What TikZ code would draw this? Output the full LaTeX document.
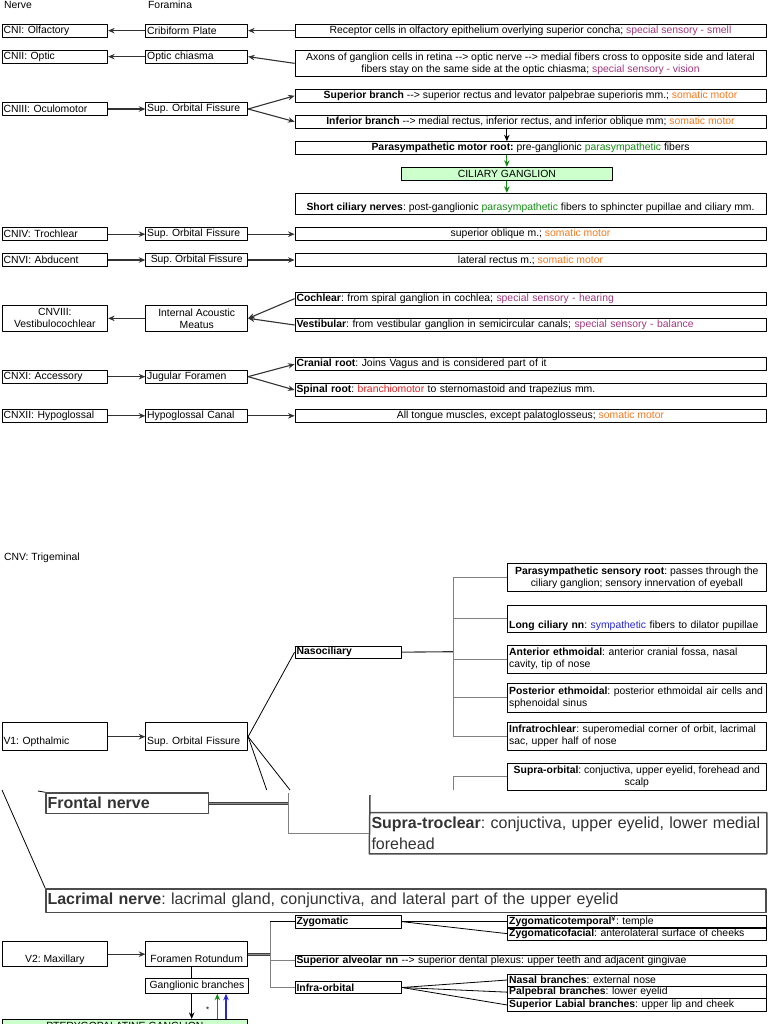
\documentclass[tikz,border=0pt]{standalone}
\usepackage{fontspec}
\setmainfont{Liberation Sans}
\usetikzlibrary{arrows.meta}
\frenchspacing
\definecolor{sens}{RGB}{160,55,125}
\definecolor{mot}{RGB}{245,120,30}
\definecolor{psym}{RGB}{20,140,20}
\definecolor{symp}{RGB}{40,40,210}
\definecolor{bmot}{RGB}{225,30,30}
\definecolor{ggreen}{RGB}{204,255,204}
\definecolor{ink}{RGB}{50,50,50}
\newcommand{\dto}{-{}->}
% centred box from corner (#3,#4) to corner (#5,#6)
\newcommand{\bx}[7][]{%
  \pgfmathsetmacro{\boxw}{#5-#3}\pgfmathsetmacro{\boxh}{#6-#4}%
  \node[box, minimum width=\boxw pt, minimum height=\boxh pt, #1] (#2) at ({(#3+#5)/2},{(#4+#6)/2}) {#7};}
% left aligned box
\newcommand{\bl}[7][]{%
  \pgfmathsetmacro{\boxw}{#5-#3}\pgfmathsetmacro{\boxh}{#6-#4}\pgfmathsetmacro{\boxt}{#5-#3-3}%
  \node[box, inner xsep=1.5pt, align=left, text width=\boxt pt, minimum width=\boxw pt, minimum height=\boxh pt, #1] (#2) at ({(#3+#5)/2},{(#4+#6)/2}) {#7};}
\begin{document}
\begin{tikzpicture}[x=1pt, y=-1pt, font=\fontsize{10.4}{12}\selectfont, line join=round, >={Stealth[length=6.5pt,width=5.5pt]},
	box/.style={draw=black, line width=0.85pt, inner sep=1pt, align=center},
	arr/.style={->, draw=ink, line width=1.1pt},
	tree/.style={draw=gray, line width=1pt},
	big/.style={draw=black!70, line width=1.5pt, text=black!80, font=\fontsize{16}{21}\selectfont},
	dbl/.style={draw=black!75, double=black!45, double distance=1.2pt, line width=0.9pt}]
	\useasboundingbox (0,0) rectangle (768,1024);
	\node[anchor=west] (hnerve) at (0.6,5) {Nerve};
	\node[anchor=west] (hfor) at (144.6,5) {Foramina};
	% CNI, CNII
	\bl{olf}{2}{24}{107.7}{37.3}{CNI: Olfactory}
	\bl{crib}{145.7}{24}{247.7}{37.3}{Cribiform Plate}
	\bx{rec}{295}{24}{766}{37.3}{Receptor cells in olfactory epithelium overlying superior concha; \textcolor{sens}{special sensory - smell}}
	\bl{opt}{2}{50}{107.7}{63.3}{CNII: Optic}
	\bl{optch}{145.7}{50}{247.7}{63.3}{Optic chiasma}
	\bx{axons}{295}{50}{766}{76.7}{Axons of ganglion cells in retina \dto{} optic nerve \dto{} medial fibers cross to opposite side and lateral\\fibers stay on the same side at the optic chiasma; \textcolor{sens}{special sensory - vision}}
	% CNIII
	\bl{cn3}{2}{102.3}{107.7}{115.7}{CNIII: Oculomotor}
	\bl{sof1}{145.7}{102.3}{247.7}{115.7}{Sup. Orbital Fissure}
	\bx{supbr}{295}{89.3}{766}{102.3}{\textbf{Superior branch} \dto{} superior rectus and levator palpebrae superioris mm.; \textcolor{mot}{somatic motor}}
	\bx{infbr}{295}{115}{766}{128.3}{\textbf{Inferior branch} \dto{} medial rectus, inferior rectus, and inferior oblique mm; \textcolor{mot}{somatic motor}}
	\bx{para}{295}{141.7}{766}{154.3}{\textbf{Parasympathetic motor root:} pre-ganglionic \textcolor{psym}{parasympathetic} fibers}
	\bx[fill=ggreen]{cil}{401}{167.3}{612.7}{180.3}{CILIARY GANGLION}
	\bx[text height=16pt, text depth=3pt]{shortc}{295}{193.3}{766}{214.3}{\textbf{Short ciliary nerves}: post-ganglionic \textcolor{psym}{parasympathetic} fibers to sphincter pupillae and ciliary mm.}
	% CNIV, CNVI
	\bl{cn4}{2}{227.7}{107.7}{240.7}{CNIV: Trochlear}
	\bl{sof4}{145.7}{227.7}{247.7}{240.7}{Sup. Orbital Fissure}
	\bx{troch}{295}{227.7}{766}{240.7}{superior oblique m.; \textcolor{mot}{somatic motor}}
	\bl{cn6}{2}{253.3}{107.7}{266.7}{CNVI: Abducent}
	\bx{sof6}{145.7}{253.3}{247.7}{266.7}{Sup. Orbital Fissure}
	\bx{lat}{295}{253.3}{766}{266.7}{lateral rectus m.; \textcolor{mot}{somatic motor}}
	% CNVIII
	\bx{cn8}{2}{305}{107.7}{331.7}{CNVIII:\\Vestibulocochlear}
	\bx{iam}{145.7}{305}{247.7}{331.7}{Internal Acoustic\\Meatus}
	\bl{coch}{295}{292.3}{766}{305}{\textbf{Cochlear}: from spiral ganglion in cochlea; \textcolor{sens}{special sensory - hearing}}
	\bl{vest}{295}{318.3}{766}{331.7}{\textbf{Vestibular}: from vestibular ganglion in semicircular canals; \textcolor{sens}{special sensory - balance}}
	% CNXI, CNXII
	\bl{cn11}{2}{370}{107.7}{383.3}{CNXI: Accessory}
	\bl{jug}{145.7}{370}{247.7}{383.3}{Jugular Foramen}
	\bl{cran}{295}{357.7}{766}{370.7}{\textbf{Cranial root}: Joins Vagus and is considered part of it}
	\bl{spin}{295}{383.3}{766}{396.7}{\textbf{Spinal root}: \textcolor{bmot}{branchiomotor} to sternomastoid and trapezius mm.}
	\bl{cn12}{2}{409.3}{107.7}{422.3}{CNXII: Hypoglossal}
	\bl{hyc}{145.7}{409.3}{247.7}{422.3}{Hypoglossal Canal}
	\bx{tong}{295}{409.3}{766}{422.3}{All tongue muscles, except palatoglosseus; \textcolor{mot}{somatic motor}}
	\draw[arr] (crib) -- (olf);
	\draw[arr] (rec) -- (crib);
	\draw[arr] (optch) -- (opt);
	\draw[arr] (axons.west) -- (optch.east);
	\draw[arr] (cn3) -- (sof1);
	\draw[arr] (sof1.east) -- (supbr.west);
	\draw[arr] (sof1.east) -- (infbr.west);
	\draw[arr, draw=black] (infbr.south -| cil.north) -- (para.north -| cil.north);
	\draw[arr, draw=psym] (para.south -| cil.north) -- (cil.north);
	\draw[arr, draw=psym] (cil.south) -- (shortc.north -| cil.south);
	\draw[arr] (cn4) -- (sof4);
	\draw[arr] (sof4) -- (troch);
	\draw[arr] (cn6) -- (sof6);
	\draw[arr] (sof6) -- (lat);
	\draw[arr] (iam) -- (cn8);
	\draw[arr] (coch.west) -- (iam.east);
	\draw[arr] (vest.west) -- (iam.east);
	\draw[arr] (cn11) -- (jug);
	\draw[arr] (jug.east) -- (cran.west);
	\draw[arr] (jug.east) -- (spin.west);
	\draw[arr] (cn12) -- (hyc);
	\draw[arr] (hyc) -- (tong);
	% CNV: V1
	\node[anchor=west] (htri) at (0.6,558) {CNV: Trigeminal};
	\bl[text height=21pt, text depth=5pt]{v1}{2}{722.7}{107.7}{750.7}{V1: Opthalmic}
	\bl[text height=21pt, text depth=5pt]{sof5}{145.7}{722.7}{247.7}{750.7}{Sup. Orbital Fissure}
	\bl{naso}{295}{646}{401.7}{658.3}{\textbf{Nasociliary}}
	\bx{psr}{507.7}{563}{766}{591.7}{\textbf{Parasympathetic sensory root}: passes through the\\ciliary ganglion; sensory innervation of eyeball}
	\bl[text height=22pt, text depth=3pt]{lcn}{507.7}{605}{766}{632}{\textbf{Long ciliary nn}: \textcolor{symp}{sympathetic} fibers to dilator pupillae}
	\bl{aeth}{507.7}{645}{766}{673}{\textbf{Anterior ethmoidal}: anterior cranial fossa, nasal\\cavity, tip of nose}
	\bl{peth}{507.7}{683}{766}{712}{\textbf{Posterior ethmoidal}: posterior ethmoidal air cells and\\sphenoidal sinus}
	\bl{infr}{507.7}{722}{766}{750}{\textbf{Infratrochlear}: superomedial corner of orbit, lacrimal\\sac, upper half of nose}
	\bx{so}{507.7}{763}{766}{790}{\textbf{Supra-orbital}: conjuctiva, upper eyelid, forehead and\\scalp}
	\draw[arr] (v1) -- (sof5);
	\coordinate (cf1) at (266.7,790);
	\coordinate (cf2) at (290,790);
	\coordinate (nt) at (453.3,651.7);
	\coordinate (sc) at (453.3,790);
	\draw[line width=0.8pt] (sof5.east) -- (naso.west);
	\draw[line width=0.8pt] (sof5.east) -- (cf1);
	\draw[line width=0.8pt] (sof5.east) -- (cf2);
	\draw[draw=ink, line width=1.1pt] (naso.east) -- (nt);
	\draw[tree] (nt |- psr.west) -- (nt |- infr.west);
	\foreach \b in {psr,lcn,aeth,peth,infr}
		\draw[tree] (nt |- \b.west) -- (\b.west);
	\draw[tree] (sc) -- (sc |- so.west) -- (so.west);
	% pasted frontal / lacrimal part
	\bl[big]{front}{46}{793}{208.3}{813.3}{\textbf{Frontal nerve}}
	\bl[big, draw=none]{st}{370}{813.3}{766}{853}{\textbf{Supra-troclear}: conjuctiva, upper eyelid, lower medial\\forehead}
	\bl[big]{lac}{46}{889}{766}{912.7}{\textbf{Lacrimal nerve}: lacrimal gland, conjunctiva, and lateral part of the upper eyelid}
	\coordinate (stt) at (370,795);
	\coordinate (ft) at (288.3,793.3);
	\coordinate (fc) at (38,791);
	\coordinate (cl) at (2,790);
	\draw[draw=black!70, line width=1.5pt] (stt) -- (st.south west) -- (st.south east) -- (st.north east) -- (st.north west);
	\draw[dbl] (front.east) -- (front.east -| ft);
	\draw[tree, line width=1.3pt] (ft) -- (ft |- st.west) -- (st.west);
	\draw[line width=0.8pt] (fc) -- (front.north west);
	\draw[line width=0.8pt] (cl) -- (lac.north west);
	% V2
	\bx[text height=20pt, text depth=3pt]{v2}{2}{941.7}{107.7}{966.7}{V2: Maxillary}
	\bx[text height=20pt, text depth=3pt]{foro}{145.7}{941.7}{247.7}{966.7}{Foramen Rotundum}
	\bx{gang}{145.7}{978.3}{248.3}{993.3}{Ganglionic branches}
	\bx[fill=ggreen]{ptg}{2}{1019.3}{247.7}{1032}{PTERYGOPALATINE GANGLION}
	\bl{zyg}{295}{915}{401.7}{928.3}{\textbf{Zygomatic}}
	\bl{sa}{295}{955}{766}{966.7}{\textbf{Superior alveolar nn} \dto{} superior dental plexus: upper teeth and adjacent gingivae}
	\bl{io}{295}{981.7}{401.7}{993.3}{\textbf{Infra-orbital}}
	\bl{zt}{507.7}{916}{766}{927.3}{\textbf{Zygomaticotemporal}\textsuperscript{¥}: temple}
	\bl{zf}{507.7}{927.3}{766}{940}{\textbf{Zygomaticofacial}: anterolateral surface of cheeks}
	\bl{nb}{507.7}{974}{766}{986}{\textbf{Nasal branches}: external nose}
	\bl{pb}{507.7}{986}{766}{998.3}{\textbf{Palpebral branches}: lower eyelid}
	\bl{sl}{507.7}{998.3}{766}{1011.7}{\textbf{Superior Labial branches}: upper lip and cheek}
	\node[font=\fontsize{8}{9}\selectfont] (ast) at (207.7,1010) {*};
	\coordinate (gx) at (191.7,0);
	\coordinate (ggx) at (217.3,0);
	\coordinate (gbx) at (226,0);
	\coordinate (mt) at (270,955);
	\draw[arr] (v2) -- (foro);
	\draw[line width=0.9pt] (foro.south -| gx) -- (gang.north -| gx);
	\draw[arr, draw=black] (gang.south -| gx) -- (ptg.north -| gx);
	\draw[arr, draw=psym] (ptg.north -| ggx) -- (gang.south -| ggx);
	\draw[arr, draw=symp] (ptg.north -| gbx) -- (gang.south -| gbx);
	\draw[dbl] (foro.east) -- (foro.east -| mt);
	\draw[tree] (mt |- zyg.west) -- (mt |- io.west);
	\draw[line width=0.9pt] (mt |- zyg.west) -- (zyg.west);
	\draw[tree] (mt |- sa.west) -- (sa.west);
	\draw[tree] (mt |- io.west) -- (io.west);
	\draw[line width=0.8pt] (zyg.east) -- (zt.west);
	\draw[line width=0.8pt] (zyg.east) -- (zf.west);
	\foreach \b in {nb,pb,sl}
		\draw[line width=0.8pt] (io.east) -- (\b.west);
\end{tikzpicture}
\end{document}
